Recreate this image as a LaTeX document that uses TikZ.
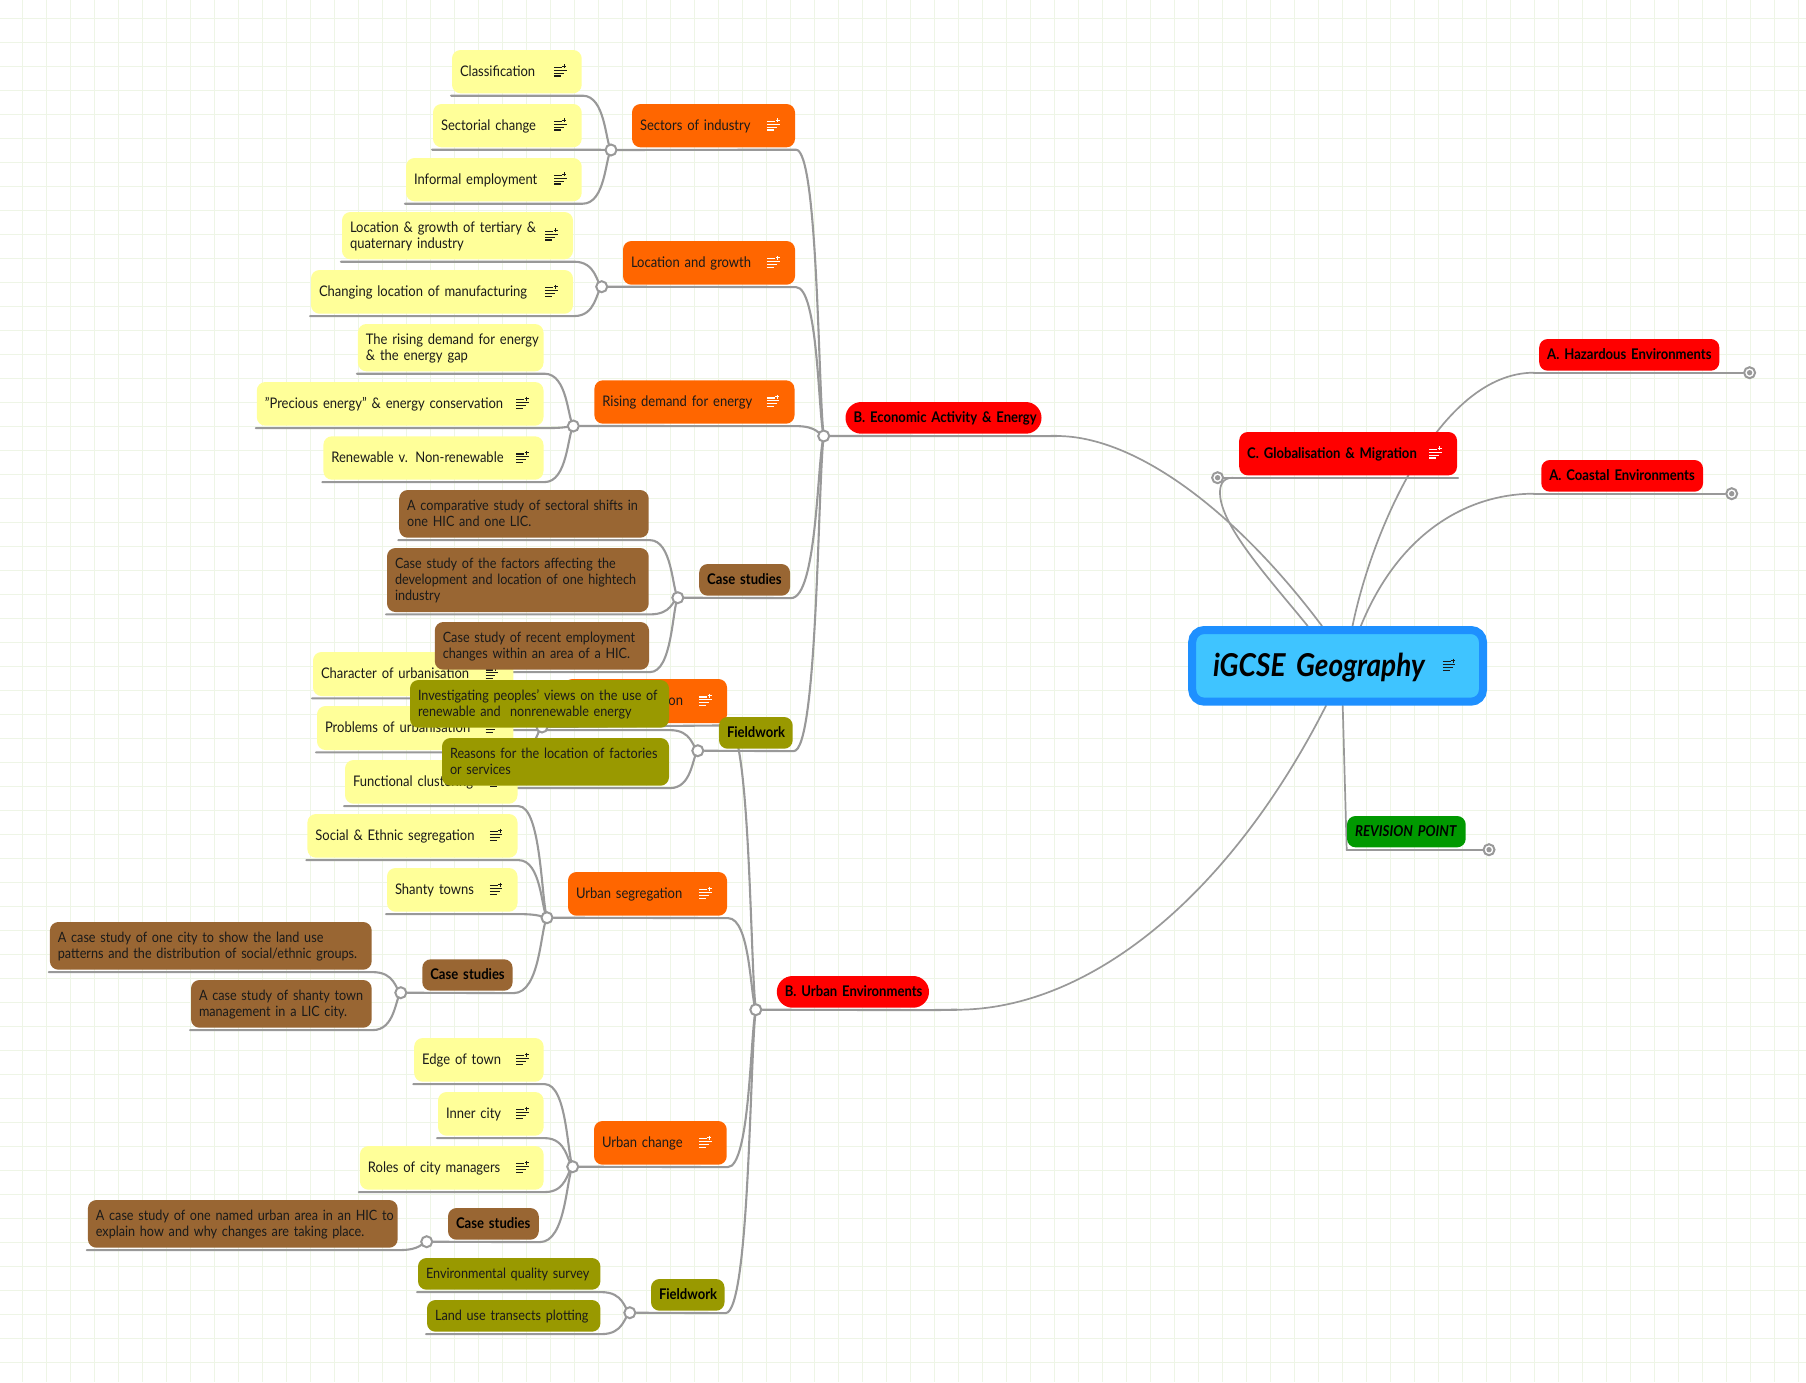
\documentclass[tikz,border=0pt]{standalone}
\usepackage{fontspec}
\setmainfont[WordSpace=0.55,FakeStretch=0.89]{Lato}
\usetikzlibrary{calc}
\pgfdeclarelayer{gridlayer}
\pgfdeclarelayer{lines}
\pgfdeclarelayer{jcts}
\pgfsetlayers{gridlayer,lines,jcts,main}
\definecolor{gridc}{HTML}{EEF5E6}
\definecolor{linec}{HTML}{999999}
\definecolor{myyellow}{HTML}{FFFF99}
\definecolor{myorange}{HTML}{FF6600}
\definecolor{myred}{HTML}{FF0000}
\definecolor{mybrown}{HTML}{996633}
\definecolor{myolive}{HTML}{999900}
\definecolor{mygreen}{HTML}{009900}
\definecolor{rootfill}{HTML}{3FC4FF}
\definecolor{rootline}{HTML}{1E90FF}
\definecolor{inkc}{HTML}{1A1A1A}
\tikzset{
  mbox/.style={anchor=north west,rectangle,rounded corners=8.5pt,inner xsep=8pt,inner ysep=0pt,outer sep=0pt,align=left,text=inkc,
    font=\fontsize{14.6}{16}\selectfont},
  yel/.style={mbox,fill=myyellow},
  ora/.style={mbox,fill=myorange},
  bro/.style={mbox,fill=mybrown,font=\fontsize{14.2}{16}\selectfont},
  oli/.style={mbox,fill=myolive,font=\fontsize{14.2}{16}\selectfont},
  redbox/.style={mbox,fill=myred,text=black,font=\fontsize{14.7}{16}\selectfont\bfseries},
  pill/.style={redbox,rounded corners=15.8pt},
  boldtx/.style={text=black,font=\fontsize{14.7}{16}\selectfont\bfseries},
  conn/.style={draw=linec,line width=2.1pt,line cap=round},
  thin conn/.style={draw=linec,line width=1.7pt,line cap=round},
  jct/.style={circle,draw=linec,fill=white,line width=2pt,minimum size=11pt,inner sep=0pt},
  endc/.style={jct,path picture={\fill[linec] (path picture bounding box.center) circle (2.7pt);}}
}
\newcommand{\mnode}[7][]{%
  \pgfmathsetmacro\mw{#5-#3}\pgfmathsetmacro\mh{#6-#4}\pgfmathsetmacro\mt{#5-#3-16}%
  \node[#1,minimum width=\mw pt,minimum height=\mh pt,text width=\mt pt] (#2) at (#3,#4) {\raisebox{-1.2pt}[\height][\depth]{\begin{tabular}{@{}l@{}}#7\end{tabular}}};
  \pgfmathsetmacro\ml{#3-1}\pgfmathsetmacro\mr{#5+1}\pgfmathsetmacro\my{#6+2.4}%
  \coordinate (#2-l) at (\ml,\my);
  \coordinate (#2-r) at (\mr,\my);
}
\newcommand{\micon}[3][inkc]{% colour, node, right inset
  \begin{scope}[shift={($(#2.east)+(-#3,0)$)},draw=#1,line width=1.25pt]
    \draw (0,-4) -- (7.7,-4);
    \draw (0,-1.2) -- (12.6,-1.2);
    \draw (0,1.6) -- (9.7,1.6);
    \draw (0,4.3) -- (7,4.3);
    \draw[line width=1pt] (10.3,-7.2) -- (10.3,-3.2) (8.3,-5.2) -- (12.3,-5.2);
  \end{scope}
}
\newcommand{\conn}[3]{% start, corner, target
  \draw[conn] let \p1=(#2),\p2=(#3) in (#1) -- (\p1)
    .. controls ({\x1+.8*(\x2-\x1)},\y1) and ({\x1+.8*(\x2-\x1)},{\y2-.15*(\y2-\y1)}) .. (\p2);
}
\begin{document}
\begin{tikzpicture}[x=1pt,y=-1pt]
\useasboundingbox (0,0) rectangle (1806,1382);
\begin{pgfonlayer}{gridlayer}
  \fill[white] (0,0) rectangle (1806,1382);
  \foreach \i in {0,...,74} {\draw[gridc,line width=1pt] ({22.3+24*\i},0) -- ({22.3+24*\i},1382);}
  \foreach \i in {0,...,57} {\draw[gridc,line width=1pt] (0,{18.5+24*\i}) -- (1806,{18.5+24*\i});}
\end{pgfonlayer}

\coordinate (rootA) at (1307.7,626);
\coordinate (rootB) at (1322,626);
\coordinate (rootC) at (1352.5,626);
\coordinate (rootD) at (1360.8,626);
\coordinate (rootE) at (1326,705.7);
\coordinate (rootF) at (1342.7,705.7);

% ---- nodes, in stacking order
\mnode[yel]{charu}{313}{652}{513.3}{696}{Character of urbanisation}
\micon{charu}{27.7}
\mnode[yel]{probu}{317}{706}{513.3}{750}{Problems of urbanisation}
\micon{probu}{27.7}
\mnode[yel]{func}{345}{760}{517.5}{803.7}{Functional clustering}
\micon{func}{27.7}
\mnode[yel]{social}{307.4}{814}{517.5}{857.7}{Social \& Ethnic segregation}
\micon{social}{27.7}
\mnode[yel]{shanty}{387}{868}{517.5}{911.7}{Shanty towns}
\micon{shanty}{27.7}

\mnode[yel]{classif}{452}{50}{581.7}{93.3}{Classification}
\micon{classif}{27.7}
\mnode[yel]{sectc}{433}{104}{581.7}{147.3}{Sectorial change}
\micon{sectc}{27.7}
\mnode[yel]{inform}{406}{158}{581.7}{201.3}{Informal employment}
\micon{inform}{27.7}
\mnode[ora]{sectors}{632}{104}{795}{147.3}{Sectors of industry}
\micon[white]{sectors}{27.7}

\mnode[yel]{loctert}{342}{212}{573}{259.3}{Location \& growth of tertiary \&\\quaternary industry}
\micon{loctert}{27.7}
\mnode[yel]{changing}{311}{270}{573}{313.7}{Changing location of manufacturing}
\micon{changing}{27.7}
\mnode[ora]{locgrow}{623}{241}{795}{284.7}{Location and growth}
\micon[white]{locgrow}{27.7}

\mnode[yel]{risingt}{357.9}{324}{543.5}{371.3}{The rising demand for energy\\\& the energy gap}
\mnode[yel]{precious}{256.8}{382}{543.5}{425.7}{"Precious energy" \& energy conservation}
\micon{precious}{27.2}
\mnode[yel]{renew}{323.4}{436.3}{543.5}{479.7}{Renewable v. Non-renewable}
\micon{renew}{27.2}
\mnode[ora]{rising}{594.4}{380.3}{794.5}{423.7}{Rising demand for energy}
\micon[white]{rising}{27.7}

\mnode[bro]{compar}{399.2}{490}{648.7}{537.7}{A comparative study of sectoral shifts in\\one HIC and one LIC.}
\mnode[bro]{factors}{387}{548}{648.7}{612}{Case study of the factors affecting the\\development and location of one hightech\\industry}
\mnode[bro]{recent}{434.8}{622}{649}{669.7}{Case study of recent employment\\changes within an area of a HIC.}
\mnode[bro,boldtx]{cases}{699.2}{564}{790}{595.7}{Case studies}

\mnode[ora,align=right]{urbanis}{564}{679}{727}{723}{Urbanisation\hspace*{36pt}}
\micon[white]{urbanis}{27.7}
\mnode[oli]{invest}{410}{680}{669}{727.7}{Investigating peoples' views on the use of\\renewable and\ \ nonrenewable energy}
\mnode[oli]{reasons}{442}{738}{669}{785.7}{Reasons for the location of factories\\or services}
\mnode[oli,boldtx]{field}{719}{717}{792.7}{748.7}{Fieldwork}

\mnode[ora]{urbseg}{568}{872}{727}{915.7}{Urban segregation}
\micon[white]{urbseg}{27.7}
\mnode[bro]{onecity}{49.9}{922}{371.7}{969.7}{A case study of one city to show the land use\\patterns and the distribution of social/ethnic groups.}
\mnode[bro]{shantyc}{191}{980}{371.7}{1027.7}{A case study of shanty town\\management in a LIC city.}
\mnode[bro,boldtx]{cases2}{422.3}{959.3}{512.6}{990.7}{Case studies}

\mnode[yel]{edge}{414.2}{1038}{543.6}{1081.7}{Edge of town}
\micon{edge}{27.2}
\mnode[yel]{inner}{438}{1092}{543.6}{1135.7}{Inner city}
\micon{inner}{27.2}
\mnode[yel]{roles}{359.9}{1146}{543.6}{1189.7}{Roles of city managers}
\micon{roles}{27.2}
\mnode[ora]{urbch}{594}{1121}{726.7}{1164.7}{Urban change}
\micon[white]{urbch}{27.7}
\mnode[bro]{named}{87.9}{1200}{397.7}{1247.7}{A case study of one named urban area in an HIC to\\explain how and why changes are taking place.}
\mnode[bro,boldtx]{cases3}{448}{1208}{538.8}{1239.7}{Case studies}
\mnode[oli]{envq}{418}{1258}{600.4}{1289.7}{Environmental quality survey}
\mnode[oli]{landu}{427}{1300}{600.4}{1331.7}{Land use transects plotting}
\mnode[oli,boldtx]{field2}{651}{1279}{724.5}{1310.7}{Fieldwork}

\mnode[pill]{econ}{845.5}{402}{1041.5}{433.7}{B. Economic Activity \& Energy}
\mnode[pill]{urbenv}{776.8}{976}{929}{1007.7}{B. Urban Environments}
\mnode[redbox]{glob}{1239.2}{432}{1457}{475.3}{C. Globalisation \& Migration}
\micon[white]{glob}{27.7}
\mnode[redbox]{haz}{1539.2}{339}{1719.3}{370.7}{A. Hazardous Environments}
\mnode[redbox]{coast}{1541.3}{460}{1703}{491.7}{A. Coastal Environments}
\mnode[redbox,fill=mygreen,font=\fontsize{15}{16}\selectfont\bfseries\itshape]{revis}{1347}{816}{1465.7}{847.3}{REVISION POINT}

\node[anchor=north west,rectangle,rounded corners=12pt,draw=rootline,fill=rootfill,line width=8pt,
  minimum width=290.8pt,minimum height=71.7pt,inner xsep=20.8pt,inner ysep=0pt,outer sep=0pt,text width=249.2pt,
  font=\fontsize{31.5}{32}\selectfont\bfseries\itshape,text=black] (root) at (1192.2,630) {\raisebox{-2pt}[\height][\depth]{iGCSE Geography}};
\micon{root}{40.2}

% ---- junction circles, between the lines and the boxes
\begin{pgfonlayer}{jcts}
  \node[jct] (j1) at (611,150) {};
  \node[jct] (j2) at (601.7,286.7) {};
  \node[jct] (j3) at (573.3,426) {};
  \node[jct] (j4) at (677.8,597.7) {};
  \node[jct] (j5) at (697.8,750.7) {};
  \node[jct] (j6) at (542,727) {};
  \node[jct] (j7) at (547,917.7) {};
  \node[jct] (j8) at (400.8,992.7) {};
  \node[jct] (j9) at (572.7,1166.7) {};
  \node[jct] (j10) at (426.7,1241.7) {};
  \node[jct] (j11) at (629.8,1312.7) {};
  \node[jct] (b1) at (823.7,436) {};
  \node[jct] (b2) at (755.8,1009.7) {};
  \node[endc] (eglob) at (1217.6,477.7) {};
  \node[endc] (ehaz) at (1749.6,372.7) {};
  \node[endc] (ecoast) at (1731.7,493.7) {};
  \node[endc] (erev) at (1489,849.7) {};
\end{pgfonlayer}

% ---- connectors, behind the nodes
\begin{pgfonlayer}{lines}
  \conn{classif-l}{classif-r}{j1}
  \conn{sectc-l}{sectc-r}{j1}
  \conn{inform-l}{inform-r}{j1}
  \conn{loctert-l}{loctert-r}{j2}
  \conn{changing-l}{changing-r}{j2}
  \conn{risingt-l}{risingt-r}{j3}
  \conn{precious-l}{precious-r}{j3}
  \conn{renew-l}{renew-r}{j3}
  \conn{compar-l}{compar-r}{j4}
  \conn{factors-l}{factors-r}{j4}
  \conn{recent-l}{recent-r}{j4}
  \conn{invest-l}{invest-r}{j5}
  \conn{reasons-l}{reasons-r}{j5}
  \conn{charu-l}{charu-r}{j6}
  \conn{probu-l}{probu-r}{j6}
  \conn{func-l}{func-r}{j7}
  \conn{social-l}{social-r}{j7}
  \conn{shanty-l}{shanty-r}{j7}
  \conn{onecity-l}{onecity-r}{j8}
  \conn{shantyc-l}{shantyc-r}{j8}
  \conn{edge-l}{edge-r}{j9}
  \conn{inner-l}{inner-r}{j9}
  \conn{roles-l}{roles-r}{j9}
  \conn{named-l}{named-r}{j10}
  \conn{envq-l}{envq-r}{j11}
  \conn{landu-l}{landu-r}{j11}
  \conn{j1}{sectors-r}{b1}
  \conn{j2}{locgrow-r}{b1}
  \conn{j3}{rising-r}{b1}
  \conn{j4}{cases-r}{b1}
  \conn{j5}{field-r}{b1}
  \conn{j6}{urbanis-r}{b2}
  \conn{j7}{urbseg-r}{b2}
  \conn{j8}{cases2-r}{j7}
  \conn{j9}{urbch-r}{b2}
  \conn{j10}{cases3-r}{j9}
  \conn{j11}{field2-r}{b2}
  % main branches
  \draw[conn] (b1) -- (econ-r) -- (1056.8,436);
  \draw[thin conn] (1056.8,436) .. controls (1135,436) and (1235,510) .. (rootB);
  \draw[conn] (b2) -- (urbenv-r) -- (956.7,1009.7);
  \draw[thin conn] (956.7,1009.7) .. controls (1090,1009.7) and (1230,895) .. (rootE);
  \draw[conn] (eglob) -- (glob-r);
  \draw[thin conn] (1233,477.7) .. controls (1222,477.7) and (1219,486) .. (1220.2,496.7)
     .. controls (1224,530) and (1272,582) .. (rootA);
  \draw[conn] (1533.8,372.7) -- (ehaz);
  \draw[thin conn] (rootC) .. controls (1372,530) and (1440,372.7) .. (1533.8,372.7);
  \draw[conn] (1533.8,493.7) -- (ecoast);
  \draw[thin conn] (rootD) .. controls (1400,530) and (1470,493.7) .. (1533.8,493.7);
  \draw[thin conn] (rootF) -- (1346.7,849.7);
  \draw[conn] (1346.7,849.7) -- (erev);
\end{pgfonlayer}
\end{tikzpicture}
\end{document}
